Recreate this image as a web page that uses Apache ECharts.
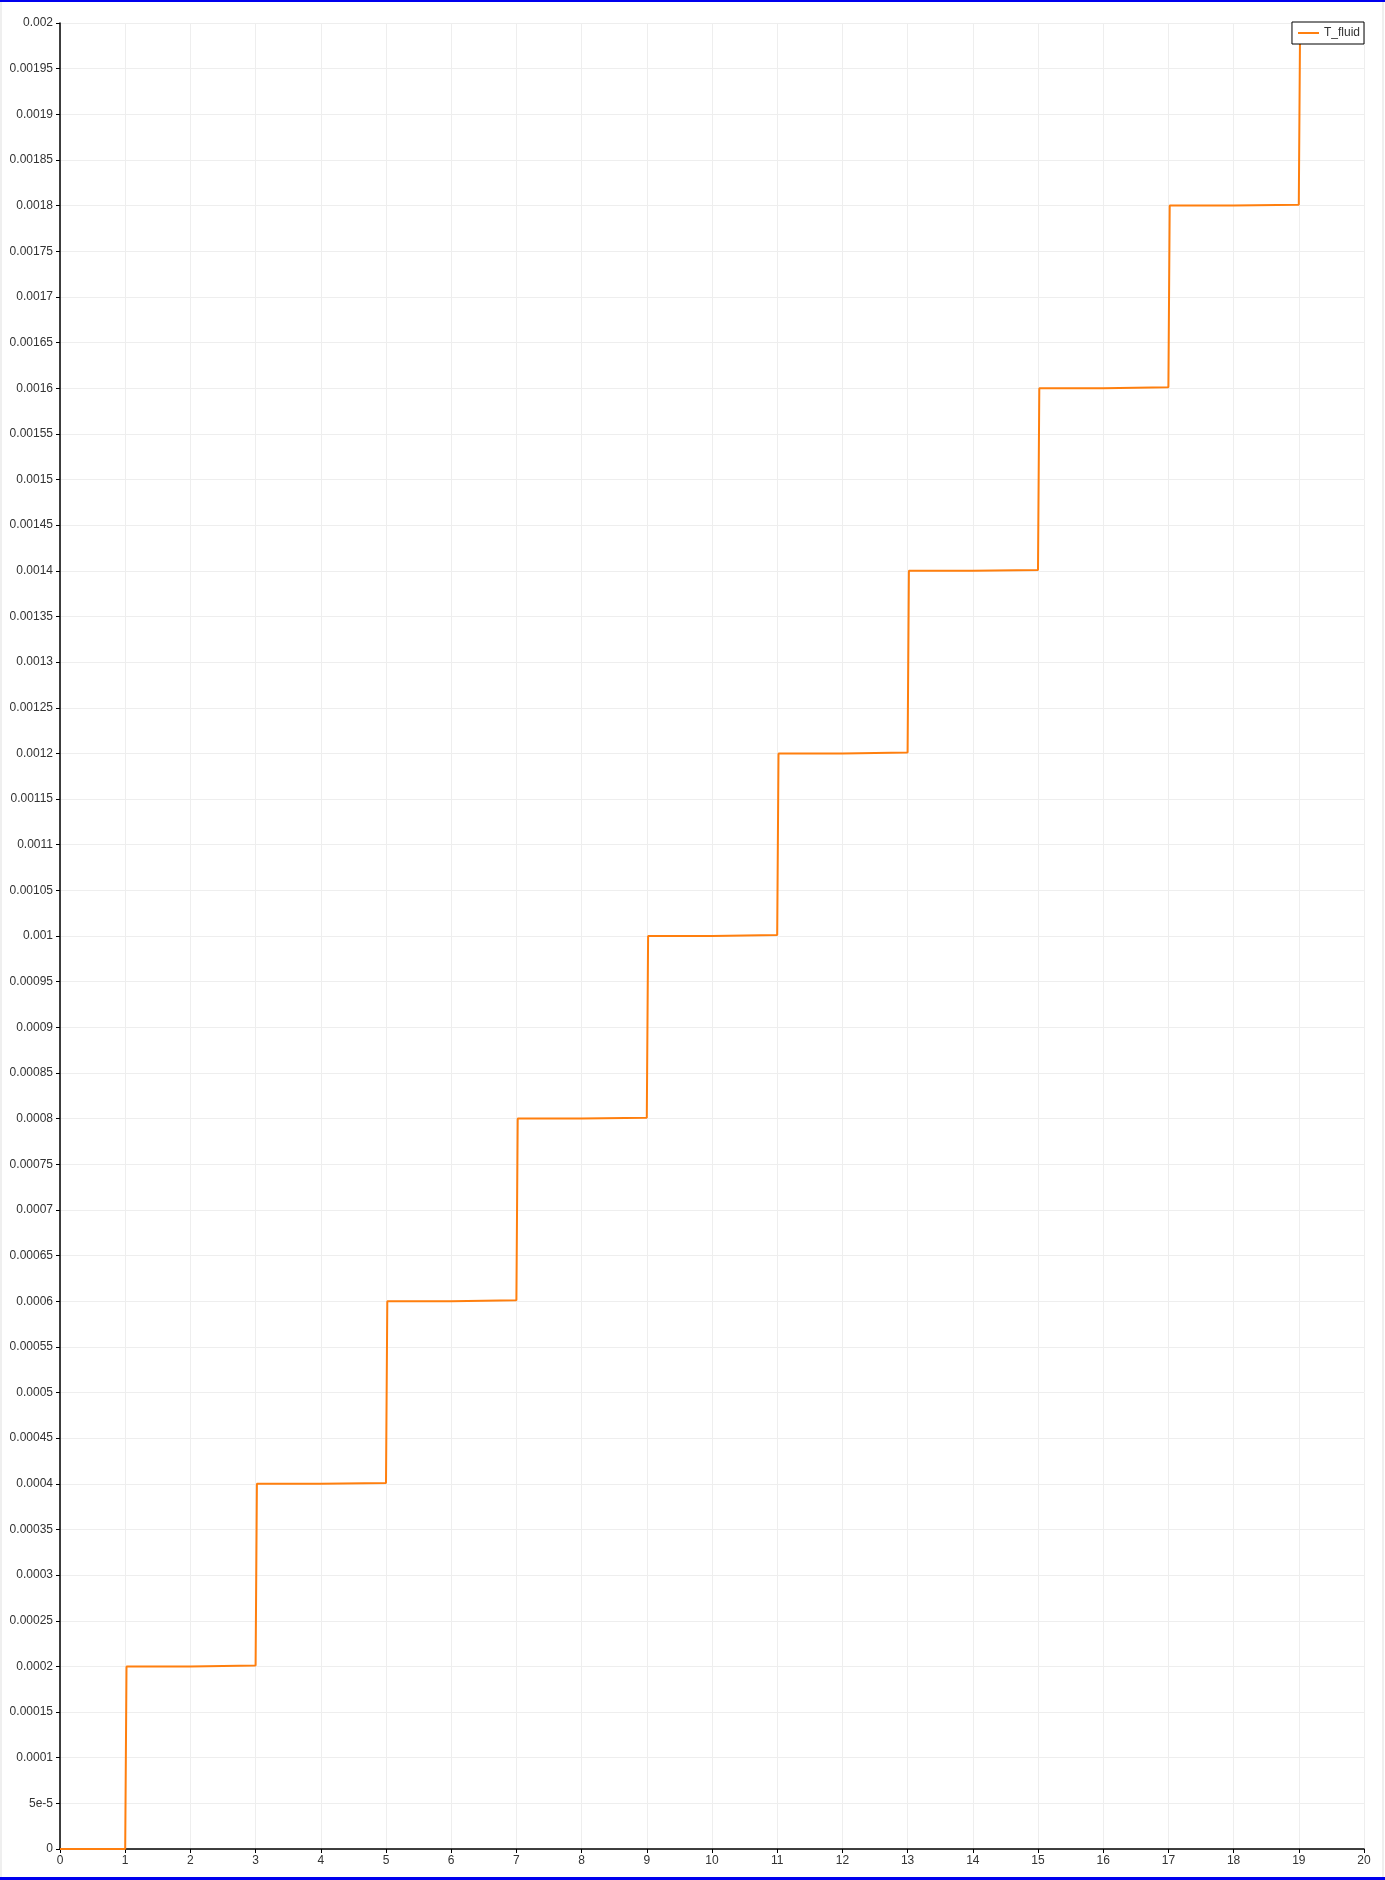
<!DOCTYPE html>
<html style="height: 100%;width: 100%;">
<head>
  <meta charset="UTF-8">
  <title>T_fluid</title>
  <style>
    html, body { margin: 0; padding: 0; background: #fff; }
    #chart { width: 1385px; height: 1880px; }
  </style>
</head>
<body>
  <div id="chart"></div>
  <script src="https://cdn.jsdelivr.net/npm/echarts@6/dist/echarts.min.js"></script>
  <script>
    // sample times (x) and T_fluid values (y)
    var times = [0, 1, 1.02, 2, 2.02, 3, 3.02, 4, 4.02, 5, 5.02, 6, 6.02, 7, 7.02, 8, 8.02, 9, 9.02, 10, 10.02,
                 11, 11.02, 12, 12.02, 13, 13.02, 14, 14.02, 15, 15.02, 16, 16.02, 17, 17.02, 18, 18.02, 19, 19.02];
    var fluidValues = [0, 0, 0.0002, 0.0002, 0.000201, 0.000201, 0.0004, 0.0004, 0.000401, 0.000401,
                       0.0006, 0.0006, 0.000601, 0.000601, 0.0008, 0.0008, 0.000801, 0.000801,
                       0.001, 0.001, 0.001001, 0.001001, 0.0012, 0.0012, 0.001201, 0.001201,
                       0.0014, 0.0014, 0.001401, 0.001401, 0.0016, 0.0016, 0.001601, 0.001601,
                       0.0018, 0.0018, 0.001801, 0.001801, 0.002];
    var seriesName = 'T_fluid';

    var points = [];
    for (var i = 0; i < times.length; ++i) {
      points.push([times[i], fluidValues[i]]);
    }

    function fmtY(v) {
      if (v === 0) return '0';
      var r = parseFloat(v.toPrecision(6));
      if (Math.abs(r) < 1e-4) return r.toExponential();
      return String(r);
    }

    var labelStyle = { color: '#333', fontFamily: 'Liberation Sans', fontSize: 12 };

    var option = {
      animation: false,
      backgroundColor: '#fff',
      grid: { left: 60, right: 21, top: 23, bottom: 31, containLabel: false },
      legend: {
        data: [{ name: seriesName, icon: 'rect' }],
        right: 21,
        top: 22,
        orient: 'vertical',
        backgroundColor: '#fff',
        borderColor: '#000',
        borderWidth: 1,
        borderRadius: 0,
        padding: [5, 4, 5, 6],
        itemWidth: 21,
        itemHeight: 2,
        textStyle: labelStyle
      },
      xAxis: {
        type: 'value',
        min: 0,
        max: 20,
        interval: 1,
        axisLine: { lineStyle: { color: '#000', width: 1.5 } },
        axisTick: { length: 4, lineStyle: { color: '#000' } },
        axisLabel: Object.assign({ margin: 6 }, labelStyle),
        splitLine: { show: true, lineStyle: { color: '#eeeeee', width: 1 } }
      },
      yAxis: {
        type: 'value',
        min: 0,
        max: 0.002,
        interval: 0.00005,
        axisLine: { show: true, lineStyle: { color: '#000', width: 1.5 } },
        axisTick: { show: true, length: 4, lineStyle: { color: '#000' } },
        axisLabel: Object.assign({ margin: 7, formatter: fmtY }, labelStyle),
        splitLine: { show: true, lineStyle: { color: '#eeeeee', width: 1 } }
      },
      graphic: [
        { type: 'rect', shape: { x: 0, y: 0, width: 1385, height: 2 }, style: { fill: '#0000ee' }, z: 100 },
        { type: 'rect', shape: { x: 0, y: 1877, width: 1385, height: 3 }, style: { fill: '#0000ee' }, z: 100 },
        { type: 'rect', shape: { x: 0, y: 2, width: 2, height: 1875 }, style: { fill: '#efefef' }, z: 100 },
        { type: 'rect', shape: { x: 1382, y: 2, width: 2, height: 1875 }, style: { fill: '#efefef' }, z: 100 }
      ],
      series: [{
        name: seriesName,
        type: 'line',
        data: points,
        symbol: 'none',
        showSymbol: false,
        clip: true,
        lineStyle: { color: '#ff7f0e', width: 2 },
        itemStyle: { color: '#ff7f0e' }
      }]
    };

    var chart = echarts.init(document.getElementById('chart'));
    chart.setOption(option);
  </script>
</body>
</html>
